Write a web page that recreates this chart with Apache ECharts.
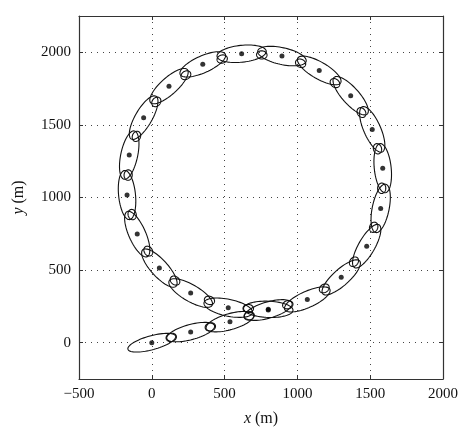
<!DOCTYPE html>
<html>
<head>
<meta charset="utf-8">
<script src="https://cdn.jsdelivr.net/npm/echarts@6/dist/echarts.min.js"></script>
<style>html,body{margin:0;padding:0;background:#fff}#c{width:474px;height:442px}</style>
</head>
<body>
<div id="c"></div>
<script>
// estimated positions along the track (m)
const xs = [0, 267, 537, 800, 1068, 1301, 1476, 1572, 1586, 1514, 1366, 1150, 894, 617, 350, 118, -56, -155, -170, -100, 52, 267, 525, 800];
const ys = [0, 73, 145, 225, 298, 450, 665, 925, 1202, 1469, 1701, 1875, 1974, 1990, 1917, 1767, 1550, 1292, 1017, 748, 514, 342, 241, 230];
// long ellipse semi-axes (m)
const bigA = [170, 170, 170, 170, 170, 170, 170, 170, 170, 170, 170, 170, 170, 170, 170, 170, 170, 170, 170, 170, 170, 170, 170, 170];
const bigB = [48, 52, 55, 56, 56, 56, 56, 58, 58, 58, 58, 58, 58, 58, 58, 58, 58, 58, 58, 58, 58, 58, 58, 56];
// small ellipse semi-axes (m)
const smallA = 36, smallB = 28;
const yTicks = [0, 500, 1000, 1500, 2000];

const pts = xs.map((x, i) => [x, ys[i]]);
function dirAt(i) {
  const a = pts[Math.max(0, i - 1)], b = pts[Math.min(pts.length - 1, i + 1)];
  return Math.atan2(b[1] - a[1], b[0] - a[0]);
}
const ell = [];
pts.forEach((p, i) => ell.push([p[0], p[1], bigA[i], bigB[i], dirAt(i)]));
for (let i = 0; i < pts.length - 1; i++) {
  const a = pts[i], b = pts[i + 1];
  ell.push([(a[0] + b[0]) / 2, (a[1] + b[1]) / 2, smallA, smallB,
    Math.atan2(b[1] - a[1], b[0] - a[0])]);
}

const font = 'Liberation Serif';
const fmt = v => (v < 0 ? '\u2212' + (-v) : String(v));
const chart = echarts.init(document.getElementById('c'));
function axisBase(extra) {
  return Object.assign({
    type: 'value',
    axisLine: { show: true, onZero: false, lineStyle: { color: '#333', width: 1.2 } },
    axisTick: { show: true, inside: true, length: 4, lineStyle: { color: '#333' } },
    splitLine: { show: false },
    axisLabel: { color: '#111', fontFamily: font, fontSize: 15, formatter: fmt }
  }, extra);
}
const nameStyle = { color: '#111', fontFamily: font, fontSize: 16, rich: { i: { fontStyle: 'italic', fontFamily: font, fontSize: 16, color: '#111' } } };
const grid = { show: true, lineStyle: { type: [1, 5], color: '#444' } };
chart.setOption({
  animation: false,
  grid: { left: 79, right: 31, top: 16, bottom: 63 },
  xAxis: [
    axisBase({ min: -500, max: 2000, interval: 500, name: '{i|x} (m)', nameLocation: 'middle', nameGap: 32,
      nameTextStyle: nameStyle, splitLine: grid }),
    axisBase({ min: -500, max: 2000, interval: 500, position: 'top', axisLabel: { show: false } })
  ],
  yAxis: [
    axisBase({ min: -250, max: 2250, name: '{i|y} (m)', nameLocation: 'middle', nameGap: 52,
      nameTextStyle: nameStyle,
      axisTick: { show: true, inside: true, length: 4, customValues: yTicks, lineStyle: { color: '#333' } },
      axisLabel: { color: '#111', fontFamily: font, fontSize: 15, customValues: yTicks, formatter: fmt },
      splitLine: grid }),
    axisBase({ min: -250, max: 2250, position: 'right', axisLabel: { show: false },
      axisTick: { show: true, inside: true, length: 4, customValues: yTicks, lineStyle: { color: '#333' } } })
  ],
  series: [
    {
      type: 'custom',
      data: ell,
      renderItem: function (params, api) {
        const cx = api.value(0), cy = api.value(1), a = api.value(2), b = api.value(3), t = api.value(4);
        const poly = [];
        for (let k = 0; k < 72; k++) {
          const s = k / 72 * Math.PI * 2;
          const ex = a * Math.cos(s), ey = b * Math.sin(s);
          poly.push(api.coord([cx + ex * Math.cos(t) - ey * Math.sin(t), cy + ex * Math.sin(t) + ey * Math.cos(t)]));
        }
        return { type: 'polygon', shape: { points: poly }, style: { fill: 'none', stroke: '#111', lineWidth: 1.1 } };
      },
      silent: true
    },
    {
      type: 'scatter', data: pts, symbolSize: 5, itemStyle: { color: '#000' }, silent: true
    }
  ]
});
</script>
</body>
</html>
